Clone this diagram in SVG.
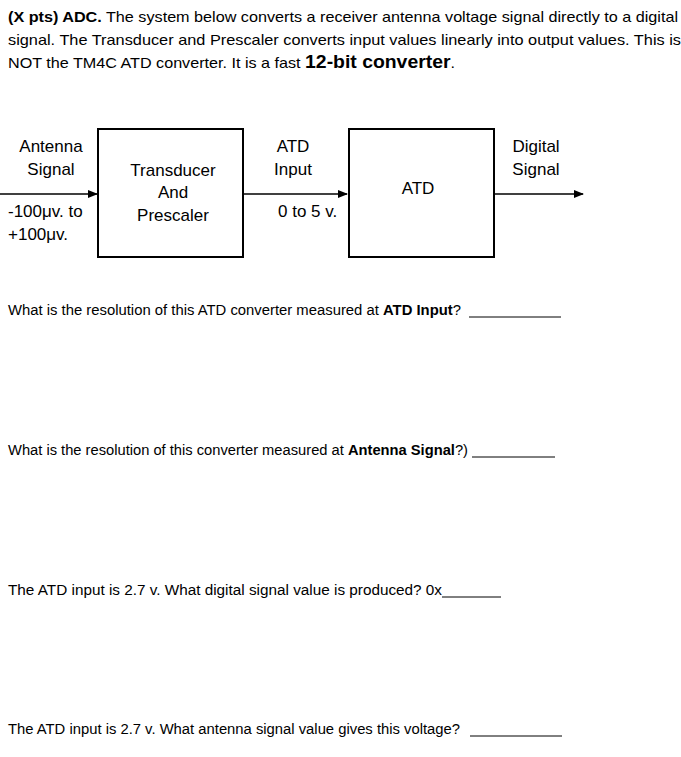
<svg xmlns="http://www.w3.org/2000/svg" width="681" height="757" viewBox="0 0 681 757">
<style>
text{font-family:"Liberation Sans",Arial,sans-serif;fill:#000}
.t{font-size:15px}
.d{font-size:17px}
.q{font-size:14px}
.box{fill:#fff;stroke:#000;stroke-width:2}
.ln{stroke:#000;stroke-width:1.5;fill:none}
.ul{stroke:#000;stroke-width:1}
</style>
<defs><marker id="ah" markerWidth="10" markerHeight="8" refX="9" refY="4" orient="auto" markerUnits="userSpaceOnUse"><path d="M0,0L10,4L0,8z" fill="#000"/></marker></defs>
<rect width="681" height="757" fill="#fff"/>
<text class="t" x="8" y="22" textLength="670" lengthAdjust="spacingAndGlyphs"><tspan font-weight="bold">(X pts) ADC.</tspan> The system below converts a receiver antenna voltage signal directly to a digital</text>
<text class="t" x="8" y="45" textLength="673" lengthAdjust="spacingAndGlyphs">signal.  The Transducer and Prescaler converts input values linearly into output values.  This is</text>
<text class="t" x="8" y="68" textLength="447" lengthAdjust="spacingAndGlyphs">NOT the TM4C ATD converter. It is a fast <tspan font-weight="bold" font-size="18px">12-bit converter</tspan>.</text>
<g id="connectors">
<line class="ln" x1="0" y1="194" x2="97" y2="194" marker-end="url(#ah)"/>
<line class="ln" x1="244" y1="194" x2="347" y2="194" marker-end="url(#ah)"/>
<line class="ln" x1="495" y1="194" x2="583" y2="194" marker-end="url(#ah)"/>
</g>
<g id="transducer"><rect class="box" x="98" y="129" width="145" height="128"/>
<text class="d" x="173" y="176" text-anchor="middle">Transducer</text>
<text class="d" x="173" y="198" text-anchor="middle">And</text>
<text class="d" x="173" y="221" text-anchor="middle">Prescaler</text></g>
<g id="atd"><rect class="box" x="349" y="129" width="145" height="128"/>
<text class="d" x="418" y="194" text-anchor="middle" font-size="19px">ATD</text></g>
<g id="labels">
<text class="d" x="51" y="152" text-anchor="middle">Antenna</text>
<text class="d" x="51" y="175" text-anchor="middle">Signal</text>
<text class="d" x="8" y="217">-100μv. to</text>
<text class="d" x="8" y="240">+100μv.</text>
<text class="d" x="293" y="152" text-anchor="middle">ATD</text>
<text class="d" x="293" y="175" text-anchor="middle">Input</text>
<text class="d" x="278" y="217">0 to 5 v.</text>
<text class="d" x="536" y="152" text-anchor="middle">Digital</text>
<text class="d" x="536" y="175" text-anchor="middle">Signal</text>
</g>
<text class="q" x="8" y="315" textLength="453" lengthAdjust="spacingAndGlyphs">What is the resolution of this ATD converter measured at <tspan font-weight="bold">ATD Input</tspan>?</text>
<line class="ul" x1="469" y1="317" x2="561" y2="317"/>
<text class="q" x="8" y="455" textLength="460" lengthAdjust="spacingAndGlyphs">What is the resolution of this converter measured at <tspan font-weight="bold">Antenna Signal</tspan>?)</text>
<line class="ul" x1="472" y1="457" x2="555" y2="457"/>
<text class="q" x="8" y="595" textLength="434" lengthAdjust="spacingAndGlyphs">The ATD input is 2.7 v. What digital signal value is produced? 0x</text>
<line class="ul" x1="442" y1="597" x2="501" y2="597"/>
<text class="q" x="8" y="734" textLength="452" lengthAdjust="spacingAndGlyphs">The ATD input is 2.7 v. What antenna signal value gives this voltage?</text>
<line class="ul" x1="470" y1="736" x2="562" y2="736"/>
</svg>
